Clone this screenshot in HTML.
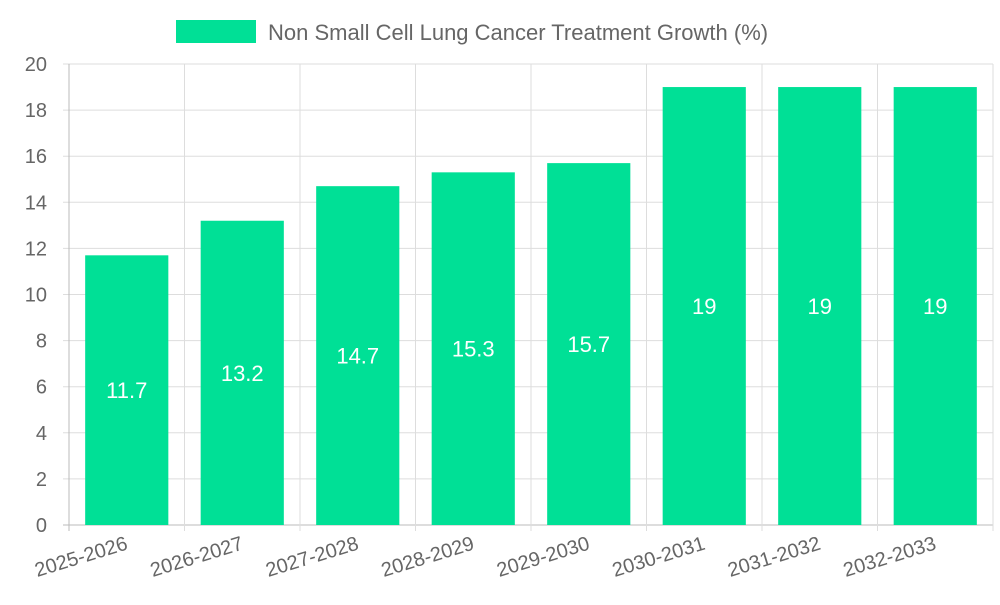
<!DOCTYPE html>
<html><head><meta charset="utf-8"><style>
body{margin:0;background:#fff;}
svg text{font-family:"Liberation Sans",sans-serif;}
</style></head><body>
<svg id="chart" width="1000" height="600" xmlns="http://www.w3.org/2000/svg">
<g id="legend">
<rect x="176" y="20" width="80" height="23" fill="#00e096"/>
<text x="268" y="40" font-size="22" fill="#666">Non Small Cell Lung Cancer Treatment Growth (%)</text>
</g>
<g id="grid"></g><g id="bars"></g><g id="labels"></g>
</svg>
<script>
const categories=["2025-2026","2026-2027","2027-2028","2028-2029","2029-2030","2030-2031","2031-2032","2032-2033"];
const values=[11.7,13.2,14.7,15.3,15.7,19,19,19];
const yTicks=[0,2,4,6,8,10,12,14,16,18,20];
const L=69,R=993,T=64,B=525,yMax=20;
const NS="http://www.w3.org/2000/svg";
const bw=(R-L)/categories.length;
const y=v=>B-(v/yMax)*(B-T);
const x=i=>L+i*bw;
function mk(tag,attrs,parent){const e=document.createElementNS(NS,tag);for(const k in attrs)e.setAttribute(k,attrs[k]);parent.appendChild(e);return e;}
const grid=document.getElementById('grid'),bars=document.getElementById('bars'),labels=document.getElementById('labels');
yTicks.forEach(t=>{
 const l=mk('line',{x1:L-6,x2:R,y1:y(t),y2:y(t),stroke:t===0?'#bbb':'#ddd','stroke-width':1},grid);
 
 
 const tx=mk('text',{x:L-22,y:y(t)+7,'text-anchor':'end','font-size':20,fill:'#666'},grid);
 tx.textContent=t;
 
 
});
for(let i=0;i<=categories.length;i++){
 const l=mk('line',{x1:x(i),x2:x(i),y1:T,y2:B+6,stroke:i===0?'#bbb':'#ddd','stroke-width':1},grid);
 
 
}
categories.forEach((c,i)=>{
 const cx=x(i)+bw/2,w=bw*0.72;
 const r=mk('rect',{x:cx-w/2,y:y(values[i]),width:w,height:B-y(values[i]),fill:'#00e096'},bars);
 
 
 const v=mk('text',{x:cx,y:(y(values[i])+B)/2+8,'text-anchor':'middle','font-size':22,fill:'#fff'},labels);
 v.textContent=values[i];
 
 
 const xl=mk('text',{x:cx+2,y:B+24,'text-anchor':'end','font-size':20,fill:'#666',transform:`rotate(-17 ${cx+2} ${B+24})`},labels);
 xl.textContent=c;
 
 
});
</script>
</body></html>
